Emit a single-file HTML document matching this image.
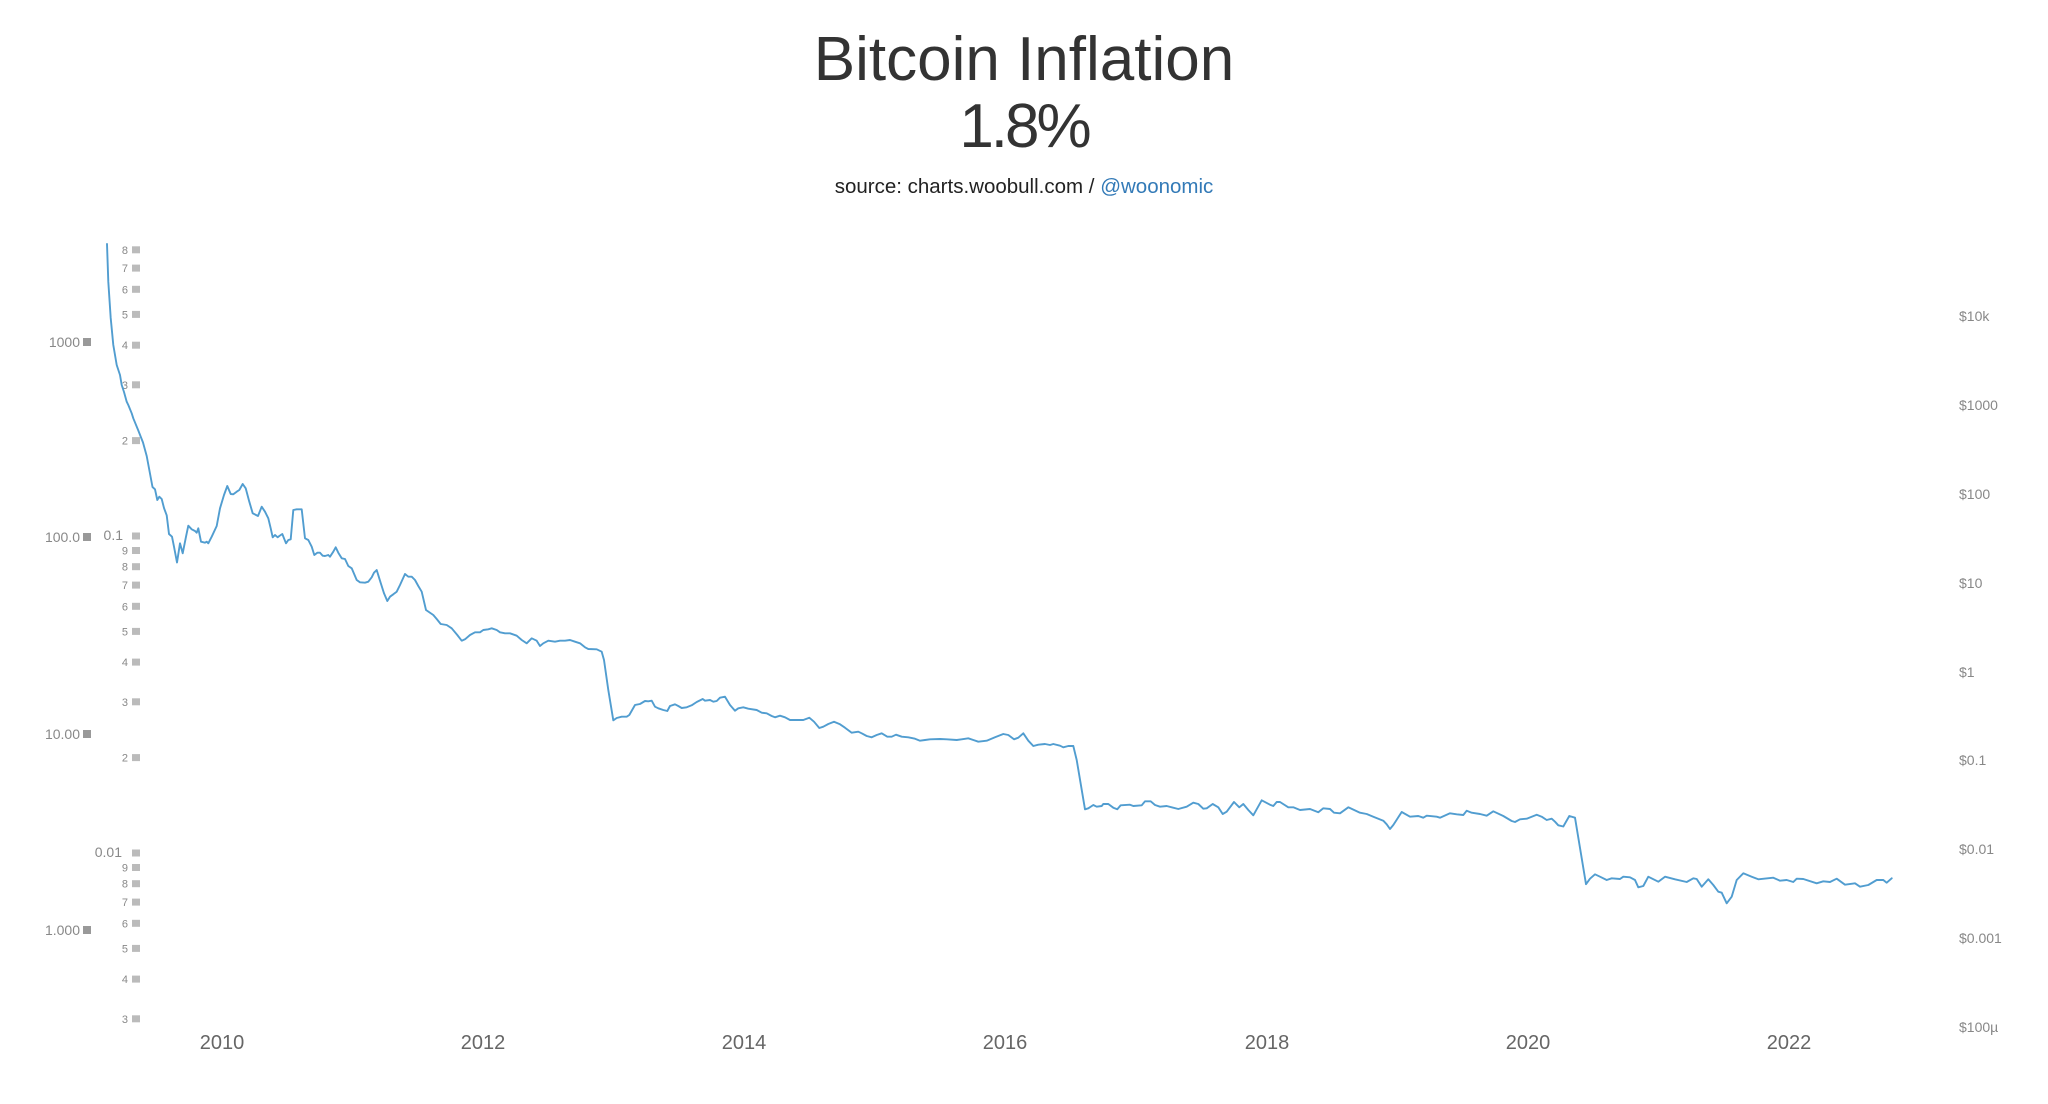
<!DOCTYPE html>
<html><head><meta charset="utf-8"><style>
html,body{margin:0;padding:0;background:#fff;}
body{width:2048px;height:1104px;overflow:hidden;}
svg{display:block;}
</style></head><body>
<svg width="2048" height="1104" viewBox="0 0 2048 1104" xmlns="http://www.w3.org/2000/svg" font-family="Liberation Sans, sans-serif">
<rect width="2048" height="1104" fill="#fff"/>
<!-- Title -->
<text x="1024" y="80" text-anchor="middle" font-size="62" fill="#333">Bitcoin Inflation</text>
<text x="1024" y="147" text-anchor="middle" font-size="62" fill="#333" letter-spacing="-3">1.8%</text>
<text x="1024" y="193" text-anchor="middle" font-size="20.5" fill="#222">source: charts.woobull.com / <tspan fill="#337ab7">@woonomic</tspan></text>

<!-- Left major axis -->
<g font-size="14" fill="#888" text-anchor="end">
<text x="80" y="347">1000</text>
<text x="80" y="542">100.0</text>
<text x="80" y="739">10.00</text>
<text x="80" y="935">1.000</text>
</g>
<g fill="#999">
<rect x="83" y="338" width="8" height="8"/>
<rect x="83" y="533" width="8" height="8"/>
<rect x="83" y="730" width="8" height="8"/>
<rect x="83" y="926" width="8" height="8"/>
</g>

<!-- Secondary axis ticks -->
<g fill="#bbb">
<rect x="132" y="246.3" width="8" height="7"/>
<rect x="132" y="264.6" width="8" height="7"/>
<rect x="132" y="285.8" width="8" height="7"/>
<rect x="132" y="310.9" width="8" height="7"/>
<rect x="132" y="341.7" width="8" height="7"/>
<rect x="132" y="381.3" width="8" height="7"/>
<rect x="132" y="437.1" width="8" height="7"/>
<rect x="132" y="532.5" width="8" height="7"/>
<rect x="132" y="547" width="8" height="7"/>
<rect x="132" y="563.2" width="8" height="7"/>
<rect x="132" y="581.6" width="8" height="7"/>
<rect x="132" y="602.8" width="8" height="7"/>
<rect x="132" y="627.9" width="8" height="7"/>
<rect x="132" y="658.6" width="8" height="7"/>
<rect x="132" y="698.3" width="8" height="7"/>
<rect x="132" y="754.1" width="8" height="7"/>
<rect x="132" y="849.5" width="8" height="7"/>
<rect x="132" y="864" width="8" height="7"/>
<rect x="132" y="880.2" width="8" height="7"/>
<rect x="132" y="898.6" width="8" height="7"/>
<rect x="132" y="919.8" width="8" height="7"/>
<rect x="132" y="944.9" width="8" height="7"/>
<rect x="132" y="975.6" width="8" height="7"/>
<rect x="132" y="1015.3" width="8" height="7"/>
</g>
<g font-size="11" fill="#888" text-anchor="end">
<text x="128" y="253.8">8</text>
<text x="128" y="272.1">7</text>
<text x="128" y="293.3">6</text>
<text x="128" y="318.4">5</text>
<text x="128" y="349.2">4</text>
<text x="128" y="388.8">3</text>
<text x="128" y="444.6">2</text>
<text x="128" y="554.5">9</text>
<text x="128" y="570.7">8</text>
<text x="128" y="589.1">7</text>
<text x="128" y="610.3">6</text>
<text x="128" y="635.4">5</text>
<text x="128" y="666.1">4</text>
<text x="128" y="705.8">3</text>
<text x="128" y="761.6">2</text>
<text x="128" y="871.5">9</text>
<text x="128" y="887.7">8</text>
<text x="128" y="906.1">7</text>
<text x="128" y="927.3">6</text>
<text x="128" y="952.4">5</text>
<text x="128" y="983.1">4</text>
<text x="128" y="1022.8">3</text>
</g>
<g font-size="14" fill="#888" text-anchor="end">
<text x="123" y="540">0.1</text>
<text x="122" y="857">0.01</text>
</g>

<!-- Right axis -->
<g font-size="14" fill="#888">
<text x="1959" y="321">$10k</text>
<text x="1959" y="410">$1000</text>
<text x="1959" y="499">$100</text>
<text x="1959" y="588">$10</text>
<text x="1959" y="677">$1</text>
<text x="1959" y="765">$0.1</text>
<text x="1959" y="854">$0.01</text>
<text x="1959" y="943">$0.001</text>
<text x="1959" y="1032">$100µ</text>
</g>

<!-- X axis -->
<g font-size="20" fill="#666" text-anchor="middle">
<text x="222" y="1049">2010</text>
<text x="483" y="1049">2012</text>
<text x="744" y="1049">2014</text>
<text x="1005" y="1049">2016</text>
<text x="1267" y="1049">2018</text>
<text x="1528" y="1049">2020</text>
<text x="1789" y="1049">2022</text>
</g>

<!-- Series -->
<polyline fill="none" stroke="#519dd0" stroke-width="1.9" stroke-linejoin="round" stroke-linecap="round" points="
107,244 108.3,281.7 110.7,318 113.3,345 116.7,365 120,375 121.7,385 124,392 126.7,401.7 128.3,405 131.7,413.3 133.3,418.3 138.3,430.5 143,442.5 146.7,456 149.7,472 152.5,487 155,489.3 157.3,500 159.3,496.7 161.7,499 164,508 166.7,515.3 169,534 172,536.7 174,546.7 177,562.5 180,543.3 182.7,553.3 186,536.7 188.3,525.7 191.7,529.3 195,531 196.7,532.7 198.3,528.3 201,541.7 205,542.7 206.7,541.7 208.3,543.3 211.7,536.7 216.7,526 220,508.3 224,495 227.3,486 230.7,494 233.3,494.3 236.7,491.7 239.3,490 242.7,484 245.7,488.3 249.3,501.7 252.7,513.3 256,515 258,516 261.7,506.7 265,511.7 268.3,518.3 270.7,528.3 272.7,537.3 275,535 277.7,537.3 279.3,536 282.3,534 286,543.3 288.3,540 290.7,539.3 293.3,510 296.7,509.3 301.7,509.3 305,538.3 308.3,540 311.7,546.7 314.3,555 317.3,552.7 320,552.7 322.7,555.7 325,556 328.3,555 330,556.7 333.3,551.7 335.7,547.3 338.3,552.7 341.7,558.3 345,559 348.3,566 351.7,568.3 356.7,580 360,582.3 365,582.7 368.3,581.7 371.7,577.3 374,572.7 376.7,570 380,580.7 384,593.3 387.3,601 390,596.7 393.3,594.3 396.7,591.7 400,585 405,574 408.3,576.7 411.7,576.7 415,580 418.3,586 421.7,591.7 426,610 433.3,615 436.7,619 440.7,624 446.7,625 451.7,628.3 457.3,635 461.7,640.7 465,639.3 470,635 475,632.3 480,632.3 483.3,630 488.3,629.3 491.7,628.3 496.7,630 500,632.3 505,633.3 510,633.3 516.7,635.7 521.7,640 526.7,643.3 531.7,638.3 536.7,640.7 540,646 543.3,643.3 548.3,640.7 555,641.7 560,640.7 565,640.7 570,640 575,641.7 580,643.3 585,647.3 588.3,649 596.7,649.3 601.7,651.7 604,660 608.3,690 613.3,720.3 616.7,718 621.7,716.7 626.7,716.7 629.3,715 635,705 640,704 645,701 648.3,701.3 651.7,700.7 655,706.7 658.3,708.3 663.3,710 667.3,711 670,706 675,704.3 678.3,706 681.7,708 686.7,707.3 691.7,705.3 696.7,702 702.7,699 705,700.7 710,700 713.3,701.7 716.7,701 720,697.7 725,696.7 730,705 735,710.7 738.3,708.3 743.3,707.3 748.3,708.7 756.7,710 761.7,712.7 766.7,713.3 771.7,716 775,717.3 780,715.7 785,717.3 790,720 796.7,720 803.3,720 809.3,717.7 814,721.7 819.3,728 823.3,726.7 828.3,724 834,721.7 840,724.3 845,727.7 851.7,732.7 858.3,731.7 861.7,733.3 866.7,736 871.7,737.3 876.7,735 881.7,733.3 887.3,736.7 891.7,736.7 896,734.7 901.7,736.7 908.3,737.3 915,738.7 920,740.7 925,740 930,739.3 940,739 946.7,739.3 956.7,740 961.7,739.3 968.3,738.3 973.3,740 978.3,741.7 986.7,740.7 995,737.3 1003.3,734 1008.3,735 1014,739.3 1018.3,737.7 1023.3,733.3 1028.3,740.7 1033.3,746 1038.3,744.7 1045,744 1050,745 1053.3,744 1060,745.7 1063.3,747.3 1068.3,746 1073.3,746 1076.7,760 1085,809.3 1088.3,808.3 1093.3,805 1096.7,806.7 1101.7,806 1103.3,804 1108.3,804 1113.3,807.7 1117.3,809.3 1120.7,805.3 1130,804.7 1133.3,806 1141.7,805.3 1145,801.3 1150.7,801.3 1155,805 1160,806.7 1166.7,806 1171.7,807.3 1178.3,809 1186.7,806.7 1193.3,802.7 1198.3,804 1203.3,808.7 1206.7,808.3 1212.7,804 1218.3,807.3 1222.7,814 1226.7,811.7 1234,802 1239.3,807.3 1243.3,804 1248.3,810 1253.3,815.3 1261.7,800.3 1270,804.7 1273.3,806 1276.7,802 1280,802 1288.3,807.3 1293.3,807.3 1300,810 1310,809 1318.3,812.3 1323.3,808.3 1330,809 1334,812.7 1340,813.3 1348.3,807.3 1360,812.7 1366.7,814 1373.3,816.7 1383.3,820.7 1386.7,824.3 1390,829 1393.3,825 1401.7,812 1410,816.7 1418.3,816 1423.3,817.7 1426.7,815.7 1436.7,816.7 1440,817.7 1450,813.3 1456.7,814.3 1463.3,815 1466.7,810.7 1471.7,812.7 1480,814 1486.7,815.7 1493.3,811.3 1503.3,816 1511.7,821 1515,822 1520,819.3 1526.7,818.7 1536.7,814.7 1541.7,816.7 1546.7,820 1551.7,818.7 1555,821.7 1558.3,825.3 1563.3,826.5 1569.3,816 1575,817.7 1586,884.2 1590,878.7 1595,874.3 1600,876.7 1606.7,880 1611.7,878.3 1620,879 1623.3,876.7 1630,877.3 1635,880 1638.3,887.3 1643.3,886 1648.3,876.7 1658.3,881.7 1665,876.7 1675,879.3 1686.7,882 1693.3,878.3 1696.7,879 1701.7,886.7 1708.3,879.3 1713.3,885 1718.3,891.7 1721.7,892.7 1726.7,903.3 1731.7,896.7 1736.7,880 1743.3,873.3 1751.7,876.7 1758.3,879.3 1773.3,877.7 1780,880.7 1786.7,880 1793.3,882 1796.7,878.7 1803.3,879 1816.7,883.3 1823.3,881.3 1830,882 1836.7,878.7 1845,884.7 1855,883.3 1860,886.7 1868.3,885 1876.7,880 1883.3,880 1886.7,882.7 1891.7,878.3"/>
</svg>
</body></html>
